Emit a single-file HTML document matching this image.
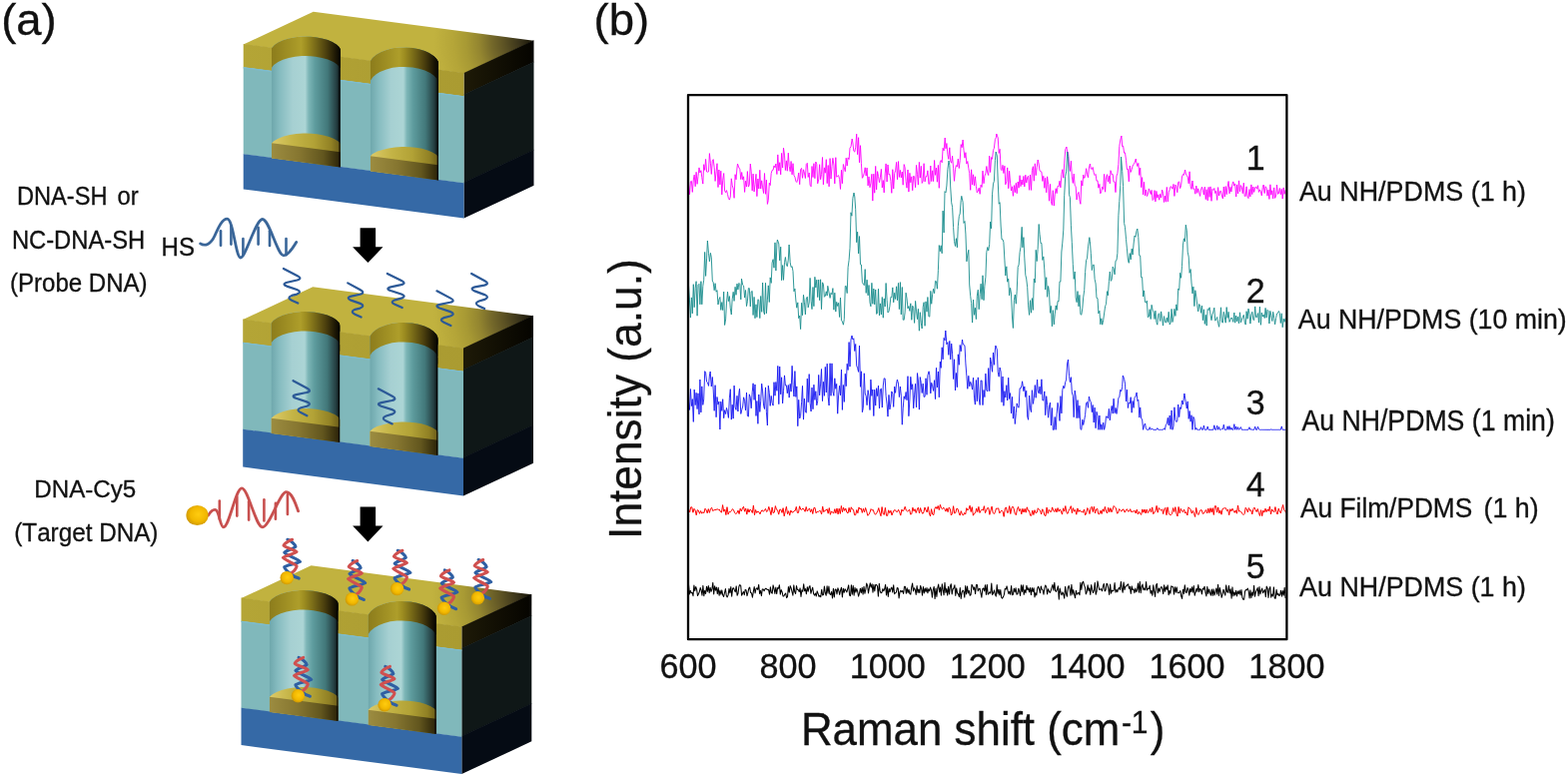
<!DOCTYPE html><html><head><meta charset="utf-8"><title>Figure</title><style>html,body{margin:0;padding:0;background:#fff;}svg{display:block;}text{font-family:"Liberation Sans", Arial, sans-serif;font-kerning:none;}</style></head><body>
<svg width="1570" height="779" viewBox="0 0 1570 779">
<defs>
<linearGradient id="gFGold" x1="0" y1="0" x2="1" y2="0"><stop offset="0" stop-color="#b4a536"/><stop offset="1" stop-color="#aa9b31"/></linearGradient>
<linearGradient id="gRGold" x1="0" y1="0" x2="1" y2="0"><stop offset="0" stop-color="#1e1a07"/><stop offset="1" stop-color="#050400"/></linearGradient>
<linearGradient id="gCyl" x1="0" y1="0" x2="1" y2="0"><stop offset="0" stop-color="#6ea7ac"/><stop offset="0.12" stop-color="#86bcc0"/><stop offset="0.3" stop-color="#a6d0d2"/><stop offset="0.48" stop-color="#acd5d5"/><stop offset="0.53" stop-color="#7db6b7"/><stop offset="0.62" stop-color="#5e9c9e"/><stop offset="0.8" stop-color="#42787a"/><stop offset="0.93" stop-color="#243d40"/><stop offset="1" stop-color="#000"/></linearGradient>
<linearGradient id="gBand" x1="0" y1="0" x2="1" y2="0"><stop offset="0" stop-color="#8c7c1c"/><stop offset="0.25" stop-color="#a09024"/><stop offset="0.42" stop-color="#ae9e2a"/><stop offset="0.5" stop-color="#9c8c20"/><stop offset="0.62" stop-color="#7a6c18"/><stop offset="0.78" stop-color="#4c400e"/><stop offset="0.9" stop-color="#221c06"/><stop offset="1" stop-color="#000"/></linearGradient>
<linearGradient id="gDiscTop" x1="0" y1="0" x2="1" y2="0"><stop offset="0" stop-color="#dcca68"/><stop offset="0.3" stop-color="#c4b446"/><stop offset="0.6" stop-color="#b2a236"/><stop offset="0.85" stop-color="#908024"/><stop offset="1" stop-color="#625416"/></linearGradient>
<linearGradient id="gDiscFront" x1="0" y1="0" x2="1" y2="0"><stop offset="0" stop-color="#9c8c40"/><stop offset="0.4" stop-color="#867630"/><stop offset="0.75" stop-color="#62561e"/><stop offset="1" stop-color="#2a2208"/></linearGradient>
<radialGradient id="gBall" cx="0.55" cy="0.45" r="0.6"><stop offset="0" stop-color="#ffcc10"/><stop offset="0.6" stop-color="#f2b800"/><stop offset="1" stop-color="#c89200"/></radialGradient>
</defs>
<rect width="1570" height="779" fill="#fff"/>
<g id="b1"><radialGradient id="gTop_b1" gradientUnits="userSpaceOnUse" cx="534.5" cy="40.8" r="100"><stop offset="0" stop-color="#141205"/><stop offset="0.14" stop-color="#38321a"/><stop offset="0.3" stop-color="#5c5224"/><stop offset="0.42" stop-color="#74682a"/><stop offset="0.55" stop-color="#948630"/><stop offset="0.68" stop-color="#a89a34"/><stop offset="0.8" stop-color="#b4a538"/><stop offset="1" stop-color="#c1b23f"/></radialGradient><polygon points="243.70,44.50 313.70,11.80 534.50,40.84 464.50,73.54" fill="url(#gTop_b1)"/><polygon points="464.50,73.04 534.50,40.34 534.50,62.34 464.50,95.04" fill="url(#gRGold)"/><polygon points="464.50,94.54 534.50,61.84 534.50,150.34 464.50,183.04" fill="#0f1717"/><polygon points="464.50,182.54 534.50,149.84 534.50,185.84 464.50,218.54" fill="#050b14"/><polygon points="243.70,44.00 464.50,73.04 464.50,96.54 243.70,67.50" fill="url(#gFGold)"/><polygon points="243.70,67.20 464.50,96.24 464.50,183.54 243.70,154.50" fill="#80b8bb"/><polygon points="243.70,154.20 464.50,183.24 464.50,218.54 243.70,189.50" fill="#3569a6"/><line x1="243.70" y1="67.90" x2="464.50" y2="96.94" stroke="#7dbccd" stroke-width="1.3"/><clipPath id="clip_b1_0"><rect x="272.00" y="0.0" width="68.80" height="240"/></clipPath><g clip-path="url(#clip_b1_0)"><path d="M272.00,48.22 A35.764,16.600 0 0 1 340.80,57.27 L340.80,167.27 L272.00,158.22 Z" fill="url(#gCyl)"/><path d="M272.00,48.22 A35.764,16.600 0 0 1 340.80,57.27 L340.80,76.77 A35.764,16.600 0 0 0 272.00,67.72 Z" fill="url(#gBand)"/><path d="M272.00,143.22 A36.218,14.500 0 0 1 340.80,152.27 L340.80,167.27 L272.00,158.22 Z" fill="url(#gDiscTop)"/><polygon points="272.00,143.22 340.80,152.27 340.80,167.57 272.00,158.52" fill="url(#gDiscFront)"/><line x1="340.10" y1="51.27" x2="340.10" y2="167.27" stroke="#000" stroke-width="1.4" opacity="0.8"/></g><clipPath id="clip_b1_1"><rect x="370.80" y="0.0" width="68.20" height="240"/></clipPath><g clip-path="url(#clip_b1_1)"><path d="M370.80,61.22 A35.135,18.700 0 0 1 439.00,70.19 L439.00,180.19 L370.80,171.22 Z" fill="url(#gCyl)"/><path d="M370.80,61.22 A35.135,18.700 0 0 1 439.00,70.19 L439.00,89.69 A35.135,18.700 0 0 0 370.80,80.72 Z" fill="url(#gBand)"/><path d="M370.80,156.22 A36.007,14.000 0 0 1 439.00,165.19 L439.00,180.19 L370.80,171.22 Z" fill="url(#gDiscTop)"/><polygon points="370.80,156.22 439.00,165.19 439.00,180.49 370.80,171.52" fill="url(#gDiscFront)"/><line x1="438.30" y1="64.19" x2="438.30" y2="180.19" stroke="#000" stroke-width="1.4" opacity="0.8"/></g></g>
<g id="b2"><radialGradient id="gTop_b2" gradientUnits="userSpaceOnUse" cx="534.0" cy="316.3" r="100"><stop offset="0" stop-color="#141205"/><stop offset="0.14" stop-color="#38321a"/><stop offset="0.3" stop-color="#5c5224"/><stop offset="0.42" stop-color="#74682a"/><stop offset="0.55" stop-color="#948630"/><stop offset="0.68" stop-color="#a89a34"/><stop offset="0.8" stop-color="#b4a538"/><stop offset="1" stop-color="#c1b23f"/></radialGradient><polygon points="243.20,320.00 313.20,287.30 534.00,316.34 464.00,349.04" fill="url(#gTop_b2)"/><polygon points="464.00,348.54 534.00,315.84 534.00,337.84 464.00,370.54" fill="url(#gRGold)"/><polygon points="464.00,370.04 534.00,337.34 534.00,425.84 464.00,458.54" fill="#0f1717"/><polygon points="464.00,458.04 534.00,425.34 534.00,463.84 464.00,496.54" fill="#050b14"/><polygon points="243.20,319.50 464.00,348.54 464.00,372.04 243.20,343.00" fill="url(#gFGold)"/><polygon points="243.20,342.70 464.00,371.74 464.00,459.04 243.20,430.00" fill="#80b8bb"/><polygon points="243.20,429.70 464.00,458.74 464.00,496.54 243.20,467.50" fill="#3569a6"/><line x1="243.20" y1="343.40" x2="464.00" y2="372.44" stroke="#7dbccd" stroke-width="1.3"/><clipPath id="clip_b2_0"><rect x="271.50" y="275.5" width="68.80" height="240"/></clipPath><g clip-path="url(#clip_b2_0)"><path d="M271.50,323.72 A35.764,16.600 0 0 1 340.30,332.77 L340.30,442.77 L271.50,433.72 Z" fill="url(#gCyl)"/><path d="M271.50,323.72 A35.764,16.600 0 0 1 340.30,332.77 L340.30,352.27 A35.764,16.600 0 0 0 271.50,343.22 Z" fill="url(#gBand)"/><path d="M271.50,418.72 A36.218,14.500 0 0 1 340.30,427.77 L340.30,442.77 L271.50,433.72 Z" fill="url(#gDiscTop)"/><polygon points="271.50,418.72 340.30,427.77 340.30,443.07 271.50,434.02" fill="url(#gDiscFront)"/><line x1="339.60" y1="326.77" x2="339.60" y2="442.77" stroke="#000" stroke-width="1.4" opacity="0.8"/></g><clipPath id="clip_b2_1"><rect x="370.30" y="275.5" width="68.20" height="240"/></clipPath><g clip-path="url(#clip_b2_1)"><path d="M370.30,336.72 A35.135,18.700 0 0 1 438.50,345.69 L438.50,455.69 L370.30,446.72 Z" fill="url(#gCyl)"/><path d="M370.30,336.72 A35.135,18.700 0 0 1 438.50,345.69 L438.50,365.19 A35.135,18.700 0 0 0 370.30,356.22 Z" fill="url(#gBand)"/><path d="M370.30,431.72 A36.007,14.000 0 0 1 438.50,440.69 L438.50,455.69 L370.30,446.72 Z" fill="url(#gDiscTop)"/><polygon points="370.30,431.72 438.50,440.69 438.50,455.99 370.30,447.02" fill="url(#gDiscFront)"/><line x1="437.80" y1="339.69" x2="437.80" y2="455.69" stroke="#000" stroke-width="1.4" opacity="0.8"/></g></g>
<g id="b3"><radialGradient id="gTop_b3" gradientUnits="userSpaceOnUse" cx="532.3" cy="595.3" r="100"><stop offset="0" stop-color="#141205"/><stop offset="0.14" stop-color="#38321a"/><stop offset="0.3" stop-color="#5c5224"/><stop offset="0.42" stop-color="#74682a"/><stop offset="0.55" stop-color="#948630"/><stop offset="0.68" stop-color="#a89a34"/><stop offset="0.8" stop-color="#b4a538"/><stop offset="1" stop-color="#c1b23f"/></radialGradient><polygon points="241.50,599.00 311.50,566.30 532.30,595.34 462.30,628.04" fill="url(#gTop_b3)"/><polygon points="462.30,627.54 532.30,594.84 532.30,616.84 462.30,649.54" fill="url(#gRGold)"/><polygon points="462.30,649.04 532.30,616.34 532.30,704.84 462.30,737.54" fill="#0f1717"/><polygon points="462.30,737.04 532.30,704.34 532.30,742.34 462.30,775.04" fill="#050b14"/><polygon points="241.50,598.50 462.30,627.54 462.30,651.04 241.50,622.00" fill="url(#gFGold)"/><polygon points="241.50,621.70 462.30,650.74 462.30,738.04 241.50,709.00" fill="#80b8bb"/><polygon points="241.50,708.70 462.30,737.74 462.30,775.04 241.50,746.00" fill="#3569a6"/><line x1="241.50" y1="622.40" x2="462.30" y2="651.44" stroke="#7dbccd" stroke-width="1.3"/><clipPath id="clip_b3_0"><rect x="269.80" y="554.5" width="68.80" height="240"/></clipPath><g clip-path="url(#clip_b3_0)"><path d="M269.80,602.72 A35.764,16.600 0 0 1 338.60,611.77 L338.60,721.77 L269.80,712.72 Z" fill="url(#gCyl)"/><path d="M269.80,602.72 A35.764,16.600 0 0 1 338.60,611.77 L338.60,631.27 A35.764,16.600 0 0 0 269.80,622.22 Z" fill="url(#gBand)"/><path d="M269.80,697.72 A36.218,14.500 0 0 1 338.60,706.77 L338.60,721.77 L269.80,712.72 Z" fill="url(#gDiscTop)"/><polygon points="269.80,697.72 338.60,706.77 338.60,722.07 269.80,713.02" fill="url(#gDiscFront)"/><line x1="337.90" y1="605.77" x2="337.90" y2="721.77" stroke="#000" stroke-width="1.4" opacity="0.8"/></g><clipPath id="clip_b3_1"><rect x="368.60" y="554.5" width="68.20" height="240"/></clipPath><g clip-path="url(#clip_b3_1)"><path d="M368.60,615.72 A35.135,18.700 0 0 1 436.80,624.69 L436.80,734.69 L368.60,725.72 Z" fill="url(#gCyl)"/><path d="M368.60,615.72 A35.135,18.700 0 0 1 436.80,624.69 L436.80,644.19 A35.135,18.700 0 0 0 368.60,635.22 Z" fill="url(#gBand)"/><path d="M368.60,710.72 A36.007,14.000 0 0 1 436.80,719.69 L436.80,734.69 L368.60,725.72 Z" fill="url(#gDiscTop)"/><polygon points="368.60,710.72 436.80,719.69 436.80,734.99 368.60,726.02" fill="url(#gDiscFront)"/><line x1="436.10" y1="618.69" x2="436.10" y2="734.69" stroke="#000" stroke-width="1.4" opacity="0.8"/></g></g>
<path d="M283.90,269.00 L297.86,276.16 Q303.20,278.90 297.41,280.49 L287.49,282.71 Q281.70,284.30 287.24,286.60 L297.26,290.00 Q302.80,292.30 297.25,294.57 L292.15,295.93 Q286.60,298.20 292.05,300.71 L298.30,303.60" fill="none" stroke="#2c5997" stroke-width="2.2" stroke-linecap="round" stroke-linejoin="round"/>
<path d="M348.20,283.40 L360.84,290.32 Q366.10,293.20 360.31,294.77 L351.69,296.63 Q345.90,298.20 351.39,300.62 L360.61,303.88 Q366.10,306.30 360.54,308.56 L355.56,309.84 Q350.00,312.10 355.44,314.63 L361.60,317.50" fill="none" stroke="#2c5997" stroke-width="2.2" stroke-linecap="round" stroke-linejoin="round"/>
<path d="M387.80,274.00 L402.01,280.96 Q407.40,283.60 401.60,285.13 L391.30,287.37 Q385.50,288.90 391.10,291.05 L401.80,294.45 Q407.40,296.60 401.77,298.68 L395.53,300.32 Q389.90,302.40 395.38,304.84 L402.70,308.10" fill="none" stroke="#2c5997" stroke-width="2.2" stroke-linecap="round" stroke-linejoin="round"/>
<path d="M437.40,291.30 L451.20,298.60 Q456.50,301.40 450.66,302.79 L440.44,304.81 Q434.60,306.20 440.16,308.47 L450.94,312.13 Q456.50,314.40 450.87,316.48 L444.63,318.12 Q439.00,320.20 444.43,322.74 L451.40,326.00" fill="none" stroke="#2c5997" stroke-width="2.2" stroke-linecap="round" stroke-linejoin="round"/>
<path d="M472.10,274.00 L485.43,281.24 Q490.70,284.10 484.88,285.56 L475.62,287.44 Q469.80,288.90 475.26,291.39 L485.24,295.11 Q490.70,297.60 485.17,299.92 L479.63,301.48 Q474.10,303.80 479.51,306.40 L485.10,309.10" fill="none" stroke="#2c5997" stroke-width="2.2" stroke-linecap="round" stroke-linejoin="round"/>
<path d="M293.50,381.20 L307.52,388.75 Q312.80,391.60 306.97,393.01 L296.63,395.09 Q290.80,396.50 296.37,398.73 L307.23,402.37 Q312.80,404.60 307.19,406.73 L301.31,408.27 Q295.70,410.40 301.06,413.10 L307.40,416.30" fill="none" stroke="#2c5997" stroke-width="2.2" stroke-linecap="round" stroke-linejoin="round"/>
<path d="M378.80,389.30 L392.90,396.79 Q398.20,399.60 392.37,401.03 L381.93,403.17 Q376.10,404.60 381.72,406.70 L392.58,410.10 Q398.20,412.20 392.72,414.64 L386.58,416.56 Q381.10,419.00 386.55,421.51 L392.80,424.40" fill="none" stroke="#2c5997" stroke-width="2.2" stroke-linecap="round" stroke-linejoin="round"/>
<path d="M287.90,540.30 C291.54,541.35 296.00,545.90 296.00,547.30 C296.00,548.50 284.70,552.10 284.70,553.30 C284.70,555.14 300.60,560.66 300.60,562.50 C300.60,563.50 284.70,566.50 284.70,567.50 C284.70,569.82 292.68,577.36 299.20,579.10" fill="none" stroke="#2f5fa3" stroke-width="3.1" stroke-linecap="round"/>
<path d="M292.50,540.30 C288.68,541.20 284.00,545.10 284.00,546.30 C284.00,547.56 297.10,551.34 297.10,552.60 C297.10,553.74 283.30,557.16 283.30,558.30 C283.30,560.00 297.10,565.10 297.10,566.80 C297.10,568.06 294.57,572.15 292.50,573.10" fill="none" stroke="#d0504f" stroke-width="3.1" stroke-linecap="round"/>
<circle cx="287.20" cy="578.60" r="6.7" fill="url(#gBall)"/>
<path d="M353.10,561.60 C356.75,562.65 361.20,567.20 361.20,568.60 C361.20,569.80 349.90,573.40 349.90,574.60 C349.90,576.44 365.80,581.96 365.80,583.80 C365.80,584.80 349.90,587.80 349.90,588.80 C349.90,591.12 357.88,598.66 364.40,600.40" fill="none" stroke="#2f5fa3" stroke-width="3.1" stroke-linecap="round"/>
<path d="M357.70,561.60 C353.88,562.50 349.20,566.40 349.20,567.60 C349.20,568.86 362.30,572.64 362.30,573.90 C362.30,575.04 348.50,578.46 348.50,579.60 C348.50,581.30 362.30,586.40 362.30,588.10 C362.30,589.36 359.77,593.45 357.70,594.40" fill="none" stroke="#d0504f" stroke-width="3.1" stroke-linecap="round"/>
<circle cx="352.40" cy="599.90" r="6.7" fill="url(#gBall)"/>
<path d="M398.30,551.30 C401.95,552.35 406.40,556.90 406.40,558.30 C406.40,559.50 395.10,563.10 395.10,564.30 C395.10,566.14 411.00,571.66 411.00,573.50 C411.00,574.50 395.10,577.50 395.10,578.50 C395.10,580.82 403.08,588.36 409.60,590.10" fill="none" stroke="#2f5fa3" stroke-width="3.1" stroke-linecap="round"/>
<path d="M402.90,551.30 C399.08,552.20 394.40,556.10 394.40,557.30 C394.40,558.56 407.50,562.34 407.50,563.60 C407.50,564.74 393.70,568.16 393.70,569.30 C393.70,571.00 407.50,576.10 407.50,577.80 C407.50,579.06 404.97,583.15 402.90,584.10" fill="none" stroke="#d0504f" stroke-width="3.1" stroke-linecap="round"/>
<circle cx="397.60" cy="589.60" r="6.7" fill="url(#gBall)"/>
<path d="M445.30,570.90 C448.95,571.95 453.40,576.50 453.40,577.90 C453.40,579.10 442.10,582.70 442.10,583.90 C442.10,585.74 458.00,591.26 458.00,593.10 C458.00,594.10 442.10,597.10 442.10,598.10 C442.10,600.42 450.08,607.96 456.60,609.70" fill="none" stroke="#2f5fa3" stroke-width="3.1" stroke-linecap="round"/>
<path d="M449.90,570.90 C446.08,571.80 441.40,575.70 441.40,576.90 C441.40,578.16 454.50,581.94 454.50,583.20 C454.50,584.34 440.70,587.76 440.70,588.90 C440.70,590.60 454.50,595.70 454.50,597.40 C454.50,598.66 451.97,602.76 449.90,603.70" fill="none" stroke="#d0504f" stroke-width="3.1" stroke-linecap="round"/>
<circle cx="444.60" cy="609.20" r="6.7" fill="url(#gBall)"/>
<path d="M479.10,560.50 C482.75,561.55 487.20,566.10 487.20,567.50 C487.20,568.70 475.90,572.30 475.90,573.50 C475.90,575.34 491.80,580.86 491.80,582.70 C491.80,583.70 475.90,586.70 475.90,587.70 C475.90,590.02 483.88,597.56 490.40,599.30" fill="none" stroke="#2f5fa3" stroke-width="3.1" stroke-linecap="round"/>
<path d="M483.70,560.50 C479.88,561.40 475.20,565.30 475.20,566.50 C475.20,567.76 488.30,571.54 488.30,572.80 C488.30,573.94 474.50,577.36 474.50,578.50 C474.50,580.20 488.30,585.30 488.30,587.00 C488.30,588.26 485.77,592.36 483.70,593.30" fill="none" stroke="#d0504f" stroke-width="3.1" stroke-linecap="round"/>
<circle cx="478.40" cy="598.80" r="6.7" fill="url(#gBall)"/>
<path d="M299.10,658.40 C302.75,659.45 307.20,664.00 307.20,665.40 C307.20,666.60 295.90,670.20 295.90,671.40 C295.90,673.24 311.80,678.76 311.80,680.60 C311.80,681.60 295.90,684.60 295.90,685.60 C295.90,687.92 303.88,695.46 310.40,697.20" fill="none" stroke="#2f5fa3" stroke-width="3.1" stroke-linecap="round"/>
<path d="M303.70,658.40 C299.88,659.30 295.20,663.20 295.20,664.40 C295.20,665.66 308.30,669.44 308.30,670.70 C308.30,671.84 294.50,675.26 294.50,676.40 C294.50,678.10 308.30,683.20 308.30,684.90 C308.30,686.16 305.77,690.26 303.70,691.20" fill="none" stroke="#d0504f" stroke-width="3.1" stroke-linecap="round"/>
<circle cx="298.40" cy="696.70" r="6.7" fill="url(#gBall)"/>
<path d="M385.80,667.40 C389.45,668.45 393.90,673.00 393.90,674.40 C393.90,675.60 382.60,679.20 382.60,680.40 C382.60,682.24 398.50,687.76 398.50,689.60 C398.50,690.60 382.60,693.60 382.60,694.60 C382.60,696.92 390.58,704.46 397.10,706.20" fill="none" stroke="#2f5fa3" stroke-width="3.1" stroke-linecap="round"/>
<path d="M390.40,667.40 C386.58,668.30 381.90,672.20 381.90,673.40 C381.90,674.66 395.00,678.44 395.00,679.70 C395.00,680.84 381.20,684.26 381.20,685.40 C381.20,687.10 395.00,692.20 395.00,693.90 C395.00,695.16 392.47,699.26 390.40,700.20" fill="none" stroke="#d0504f" stroke-width="3.1" stroke-linecap="round"/>
<circle cx="385.10" cy="705.70" r="6.7" fill="url(#gBall)"/>
<path d="M200.6,243.9 C205,246.8 211,245 215,236 C219,227 222.5,219.2 227.5,219.2 C233.5,219.2 236,258 240.9,258 C246,258 256,219.5 262.8,219.5 C269.5,219.5 278,255.9 284,255.9 C289,255.9 293.5,247.5 296.7,242.5" fill="none" stroke="#3a6699" stroke-width="2.8" stroke-linecap="round"/>
<line x1="221" y1="231.2" x2="221" y2="245.7" stroke="#3a6699" stroke-width="2.6" stroke-linecap="round"/>
<line x1="231.4" y1="226.2" x2="231.4" y2="244.6" stroke="#3a6699" stroke-width="2.6" stroke-linecap="round"/>
<line x1="243.4" y1="239" x2="243.4" y2="255.2" stroke="#3a6699" stroke-width="2.6" stroke-linecap="round"/>
<line x1="258.6" y1="227.7" x2="258.6" y2="244.6" stroke="#3a6699" stroke-width="2.6" stroke-linecap="round"/>
<line x1="270" y1="231.2" x2="270" y2="246" stroke="#3a6699" stroke-width="2.6" stroke-linecap="round"/>
<line x1="286.5" y1="239" x2="286.5" y2="255.2" stroke="#3a6699" stroke-width="2.6" stroke-linecap="round"/>
<path d="M208.5,516 C211,512 213.5,509.5 216,510.5 C219.5,512 220.5,527.8 223.8,527.8 C229.5,527.8 236,488.8 242.1,488.8 C248.5,488.8 256,527.8 262.8,527.8 C270,527.8 280,492.7 286.7,492.7 C292,492.7 295.5,503 298.6,511.8" fill="none" stroke="#c8504f" stroke-width="2.8" stroke-linecap="round"/>
<line x1="219.8" y1="501.5" x2="219.8" y2="519.8" stroke="#c8504f" stroke-width="2.6" stroke-linecap="round"/>
<line x1="237.3" y1="497.5" x2="237.3" y2="516.6" stroke="#c8504f" stroke-width="2.6" stroke-linecap="round"/>
<line x1="249.1" y1="502.3" x2="249.1" y2="520.6" stroke="#c8504f" stroke-width="2.6" stroke-linecap="round"/>
<line x1="264.4" y1="500.3" x2="264.4" y2="521.4" stroke="#c8504f" stroke-width="2.6" stroke-linecap="round"/>
<line x1="275.9" y1="503.9" x2="275.9" y2="519.8" stroke="#c8504f" stroke-width="2.6" stroke-linecap="round"/>
<line x1="287.9" y1="495.1" x2="287.9" y2="515" stroke="#c8504f" stroke-width="2.6" stroke-linecap="round"/>
<ellipse cx="197.5" cy="516" rx="11.1" ry="10.1" fill="url(#gBall)"/>
<polygon points="360.60,228.30 376.10,228.30 376.10,247.30 383.50,247.30 368.40,263.10 353.10,247.30 360.60,247.30" fill="#000"/>
<polygon points="360.60,507.60 376.10,507.60 376.10,526.60 383.50,526.60 368.40,542.40 353.10,526.60 360.60,526.60" fill="#000"/>
<text transform="translate(1.17,35.40) scale(1,0.975)" font-size="45.50" fill="#111" stroke="#111" stroke-width="0.3">(a)</text>
<text transform="translate(594.57,35.40) scale(1,0.975)" font-size="45.50" fill="#111" stroke="#111" stroke-width="0.3">(b)</text>
<text transform="translate(17.01,205.00) scale(1,1.075)" font-size="23.60" fill="#111" stroke="#111" stroke-width="0.3">DNA-SH</text>
<text transform="translate(117.55,205.00) scale(1,1.060)" font-size="23.80" fill="#111" stroke="#111" stroke-width="0.3">or</text>
<text transform="translate(11.90,249.40) scale(1,1.080)" font-size="23.76" fill="#111" stroke="#111" stroke-width="0.3">NC-DNA-SH</text>
<text transform="translate(10.06,292.40) scale(1,1.036)" font-size="24.05" fill="#111" stroke="#111" stroke-width="0.3">(Probe DNA)</text>
<text transform="translate(161.58,256.30) scale(1,1.052)" font-size="23.97" fill="#111" stroke="#111" stroke-width="0.3">HS</text>
<text transform="translate(34.37,497.50) scale(1,1.010)" font-size="24.10" fill="#111" stroke="#111" stroke-width="0.3">DNA-Cy5</text>
<text transform="translate(14.24,542.00) scale(1,1.033)" font-size="24.26" fill="#111" stroke="#111" stroke-width="0.3">(Target DNA)</text>
<polyline points="689.5,185.1 690.5,194.6 691.4,181.8 692.4,181.3 693.3,192.4 694.3,180.0 695.2,175.1 696.2,186.7 697.1,172.3 698.1,184.3 699.0,176.4 700.0,167.9 700.9,173.0 701.9,170.7 702.8,177.7 703.8,184.1 704.7,164.7 705.7,170.4 706.6,159.4 707.6,172.0 708.5,172.2 709.5,171.9 710.4,153.6 711.4,163.2 712.3,174.4 713.3,161.1 714.2,159.6 715.2,167.8 716.1,181.4 717.1,171.8 718.0,163.7 719.0,187.5 719.9,170.0 720.9,184.9 721.8,171.2 722.8,194.9 723.7,180.2 724.7,173.5 725.6,191.0 726.6,192.7 727.5,190.6 728.5,194.5 729.4,198.5 730.4,200.1 731.3,197.0 732.3,178.8 733.2,185.5 734.2,188.9 735.1,198.3 736.1,174.7 737.0,179.8 738.0,168.0 738.5,164.0 739.9,168.0 740.8,169.1 741.8,179.6 742.7,172.5 743.7,179.8 744.6,176.8 745.6,192.4 746.5,181.2 747.5,187.0 748.4,171.6 749.4,187.1 750.3,184.9 751.3,164.1 752.2,171.8 753.2,190.9 754.1,174.1 755.1,192.0 756.0,184.7 757.0,174.3 757.9,196.6 758.9,179.0 759.8,189.0 760.8,170.3 761.7,189.0 762.7,180.8 763.6,187.9 764.6,193.5 765.5,173.5 766.5,194.3 767.4,180.2 768.4,204.4 769.3,200.4 770.3,183.2 771.2,185.6 772.2,173.6 773.1,170.5 774.1,170.2 775.0,165.9 776.0,167.8 776.9,164.0 777.9,174.5 778.8,154.9 779.8,171.1 780.7,162.7 781.7,174.8 782.6,153.4 783.6,168.0 784.5,148.1 785.5,155.1 786.4,170.5 787.4,160.9 788.3,171.2 789.3,153.2 790.2,166.4 791.2,171.7 792.1,161.5 793.1,174.8 794.0,163.7 795.0,175.8 795.9,177.1 796.9,181.5 797.8,182.5 798.8,179.2 799.7,173.0 800.7,184.7 801.6,169.6 802.6,168.4 803.5,178.3 804.5,169.8 805.4,173.1 806.4,178.5 807.3,164.4 808.3,163.3 809.2,177.4 810.2,173.0 811.1,185.2 812.1,186.8 813.0,166.5 814.0,177.5 814.9,163.7 815.9,178.7 816.8,162.0 817.8,164.6 818.7,183.8 819.7,179.9 820.6,164.7 821.6,179.7 822.5,174.5 823.5,157.5 824.4,184.8 825.4,167.9 826.3,173.2 827.3,159.7 828.2,183.6 829.2,165.5 830.1,186.8 831.1,158.6 832.0,179.1 833.0,166.5 833.9,158.3 834.9,165.1 835.8,183.9 836.8,157.7 837.7,177.2 838.7,176.4 839.6,175.6 840.6,179.4 841.5,189.4 842.5,170.3 843.4,183.7 844.4,164.5 845.3,167.9 846.3,171.7 847.2,158.2 848.2,166.1 849.1,157.9 850.1,159.5 851.0,148.2 852.0,146.7 853.2,139.0 853.9,143.0 854.8,151.2 855.8,152.1 856.7,147.5 857.7,134.2 858.6,154.7 859.6,137.7 860.5,162.8 861.5,145.7 862.4,163.7 863.4,178.3 864.3,176.8 865.3,173.2 866.2,167.8 867.2,176.1 868.1,168.1 869.1,185.9 870.0,176.9 871.0,187.7 871.9,183.3 872.9,174.3 873.8,201.1 874.8,174.2 875.7,193.2 876.7,166.4 877.6,189.9 878.6,171.6 879.5,176.5 880.5,182.7 881.4,177.7 882.4,169.4 883.3,187.9 884.3,180.6 885.2,192.9 886.2,173.9 887.1,163.9 888.1,182.0 889.0,165.0 890.0,175.1 890.9,174.4 891.9,181.4 892.8,193.3 893.8,169.7 894.7,189.1 895.7,173.5 896.6,170.8 897.6,162.4 898.5,179.7 899.5,161.6 900.4,177.4 901.4,170.4 902.3,177.9 903.3,172.0 904.2,185.2 905.2,164.6 906.1,167.7 907.1,181.4 908.0,188.2 909.0,170.0 909.9,192.1 910.9,173.3 911.8,182.8 912.8,176.8 913.7,190.7 914.7,176.1 915.6,177.1 916.6,187.7 917.5,165.4 918.5,174.3 919.4,185.1 920.4,162.4 921.3,178.1 922.3,166.3 923.2,183.4 924.2,181.2 925.1,163.7 926.1,181.9 927.0,176.7 928.0,176.7 928.9,170.8 929.9,184.3 930.8,184.0 931.8,166.0 932.7,181.6 933.7,170.8 934.6,181.6 935.6,160.5 936.5,175.3 937.5,168.0 938.4,182.2 939.4,165.4 940.3,188.3 941.3,162.3 942.2,160.5 943.2,162.8 944.1,148.3 945.1,150.9 946.2,138.0 947.0,148.8 947.9,143.5 948.9,154.7 949.8,159.4 950.8,147.8 951.7,161.3 952.7,163.2 953.6,156.2 954.6,168.8 955.5,181.3 956.5,169.4 957.4,165.6 958.4,166.9 959.3,159.1 960.3,168.5 961.2,160.4 962.2,144.6 963.1,147.7 964.1,140.0 965.0,150.3 966.0,158.2 966.9,152.7 967.9,164.1 968.8,161.5 969.8,168.3 970.7,173.2 971.7,190.3 972.6,169.8 973.6,185.0 974.5,174.8 975.5,185.9 976.4,176.8 977.4,186.5 978.3,192.9 979.3,191.1 980.2,188.2 981.2,194.3 982.1,185.2 983.1,187.4 984.0,171.1 985.0,183.7 985.9,176.3 986.9,173.3 987.8,166.5 988.8,173.2 989.7,175.5 990.7,156.2 991.6,172.5 992.6,157.6 993.5,159.3 994.5,150.4 995.4,148.3 996.4,139.5 997.3,137.8 997.8,134.0 999.2,138.0 1000.2,153.4 1001.1,149.3 1002.1,169.3 1003.0,170.7 1004.0,165.3 1004.9,173.5 1005.9,166.2 1006.8,184.8 1007.8,181.4 1008.7,167.9 1009.7,188.7 1010.6,171.2 1011.6,183.1 1012.5,191.0 1013.5,186.8 1014.4,196.3 1015.4,185.6 1016.3,192.7 1017.3,183.3 1018.2,193.7 1019.2,182.0 1020.1,188.2 1021.1,175.7 1022.0,186.6 1023.0,180.0 1023.9,185.0 1024.9,176.4 1025.8,186.9 1026.8,175.2 1027.7,183.1 1028.7,177.6 1029.6,176.2 1030.6,190.3 1031.5,175.0 1032.5,190.4 1033.4,170.5 1034.4,166.7 1035.3,181.2 1036.3,163.8 1037.2,175.6 1038.2,167.6 1039.2,160.0 1040.1,164.0 1041.0,170.9 1042.0,171.6 1042.9,172.1 1043.9,181.4 1044.8,176.3 1045.8,188.3 1046.7,178.2 1047.7,192.8 1048.6,176.8 1049.6,184.8 1050.5,201.2 1051.5,184.4 1052.4,201.5 1053.4,205.4 1054.3,190.7 1055.3,206.1 1056.2,194.9 1057.2,188.7 1058.1,193.6 1059.1,186.3 1060.0,186.7 1061.0,181.2 1061.9,187.8 1062.9,174.5 1063.8,169.7 1064.8,178.2 1065.7,163.1 1066.7,149.7 1067.9,147.0 1068.6,152.2 1069.5,152.5 1070.5,164.9 1071.4,171.4 1072.4,161.2 1073.3,176.9 1074.3,183.4 1075.2,174.1 1076.2,185.8 1077.1,186.5 1078.1,200.0 1079.0,194.1 1080.0,192.4 1080.9,199.8 1081.9,204.3 1082.8,180.8 1083.8,186.1 1084.7,175.0 1085.7,178.4 1086.6,176.5 1087.6,168.7 1088.5,174.5 1089.5,177.7 1090.4,168.0 1091.4,164.0 1092.3,169.0 1093.3,169.5 1094.2,167.5 1095.2,172.8 1096.1,175.5 1097.1,174.5 1098.0,181.1 1099.0,180.9 1099.9,188.2 1100.9,184.4 1101.8,193.8 1102.8,191.5 1103.7,187.0 1104.7,189.5 1105.6,174.4 1106.6,192.2 1107.5,177.8 1108.5,174.7 1109.4,182.1 1110.4,176.2 1111.3,183.8 1112.0,170.7 1113.2,174.7 1114.2,174.5 1115.1,182.0 1116.1,182.0 1117.0,192.6 1118.0,176.1 1118.9,173.6 1119.9,164.6 1120.8,146.5 1121.8,140.0 1122.9,136.0 1123.7,146.7 1124.6,146.1 1125.6,153.2 1126.5,152.9 1127.5,160.3 1128.4,169.6 1129.4,169.3 1130.3,181.8 1131.3,166.0 1132.2,172.4 1133.2,169.5 1134.1,166.0 1135.1,164.5 1136.0,163.0 1137.3,159.0 1137.9,163.0 1138.9,166.5 1139.8,163.4 1140.8,175.4 1141.7,168.2 1142.7,187.6 1143.6,177.6 1144.6,194.9 1145.5,182.3 1146.5,196.0 1147.4,190.0 1148.4,196.5 1149.3,194.7 1150.3,188.9 1151.2,191.0 1152.2,194.5 1153.1,190.4 1154.1,200.5 1155.0,199.6 1156.0,190.6 1156.9,201.9 1157.9,191.4 1158.8,198.2 1159.8,194.8 1160.7,200.2 1161.7,194.3 1162.6,198.0 1163.6,190.1 1164.5,193.3 1165.5,202.5 1166.4,196.2 1167.4,202.2 1168.3,187.4 1169.3,201.9 1170.2,192.7 1171.2,189.8 1172.1,186.7 1173.1,187.2 1174.0,189.2 1175.0,184.4 1175.9,196.4 1176.9,185.1 1177.8,186.4 1178.8,192.7 1179.7,182.5 1180.7,181.9 1181.6,188.6 1182.6,185.7 1183.5,177.0 1184.5,174.6 1185.4,175.3 1186.6,170.0 1187.3,174.0 1188.3,175.8 1189.2,177.0 1190.2,183.8 1191.1,171.8 1192.1,186.2 1193.0,189.4 1194.0,181.0 1194.9,189.3 1195.9,188.9 1196.8,194.2 1197.8,186.1 1198.7,193.3 1199.7,188.8 1200.6,192.7 1201.6,196.4 1202.5,190.0 1203.5,187.2 1204.4,190.2 1205.4,195.1 1206.3,187.2 1207.3,199.6 1208.2,189.7 1209.2,200.8 1210.1,187.4 1211.1,197.4 1212.0,186.9 1213.0,201.3 1213.9,189.4 1214.9,190.4 1215.8,188.5 1216.8,193.5 1217.7,191.4 1218.7,200.4 1219.6,187.6 1220.6,196.0 1221.5,191.7 1222.5,191.2 1223.4,196.1 1224.4,198.9 1225.3,187.0 1226.3,197.0 1227.2,186.6 1228.2,194.7 1229.1,187.2 1230.1,181.5 1231.0,193.8 1232.0,187.3 1232.9,192.0 1233.9,184.7 1234.8,181.9 1235.8,186.1 1236.7,183.9 1237.7,197.0 1238.6,184.9 1239.6,193.9 1240.5,180.9 1241.5,191.8 1242.4,185.6 1243.4,187.6 1244.3,193.7 1245.3,183.2 1246.2,196.3 1247.2,196.4 1248.1,186.8 1249.1,197.2 1250.0,198.6 1251.0,189.5 1251.9,196.9 1252.9,184.9 1253.8,194.6 1254.8,187.0 1255.7,192.4 1256.7,187.9 1257.6,186.9 1258.6,189.2 1259.5,185.7 1260.5,192.4 1261.4,189.9 1262.4,191.8 1263.3,195.9 1264.3,187.5 1265.2,185.0 1266.2,193.5 1267.1,186.7 1268.1,188.2 1269.0,196.2 1270.0,190.1 1270.9,199.4 1271.9,184.8 1272.8,195.2 1273.8,190.7 1274.7,198.9 1275.7,187.9 1276.6,198.4 1277.6,196.3 1278.5,185.0 1279.5,194.3 1280.4,193.7 1281.4,188.4 1282.3,194.7 1283.3,189.3 1284.2,199.1 1285.2,187.9 1286.1,194.4 1287.1,190.2" fill="none" stroke="#ff00ff" stroke-width="0.9" stroke-linejoin="round"/>
<polyline points="689.5,285.9 690.5,300.9 691.4,318.1 692.4,297.9 693.3,313.9 694.3,284.7 695.2,307.7 696.2,288.2 697.1,281.7 698.1,316.2 699.0,285.3 700.0,284.3 700.9,304.8 701.9,281.7 702.8,304.8 703.8,286.6 704.7,280.5 705.7,252.4 706.6,276.4 707.6,258.9 708.4,241.0 709.5,253.4 710.4,261.8 711.4,253.3 712.3,257.8 713.3,281.1 714.2,282.8 715.2,290.7 716.1,283.7 717.1,292.2 718.0,290.7 719.0,305.0 719.9,300.0 720.9,297.5 721.8,310.4 722.8,302.6 723.7,310.6 724.7,292.1 725.6,325.5 726.6,319.9 727.5,303.1 728.5,292.2 729.4,301.7 730.4,296.6 731.3,308.8 732.3,315.0 733.2,299.5 734.2,292.3 735.1,301.4 736.1,287.3 737.0,295.3 738.0,284.1 738.9,290.1 739.9,283.4 740.8,284.6 741.8,299.9 742.5,279.1 743.7,285.3 744.6,286.1 745.6,298.1 746.5,290.5 747.5,306.6 748.4,301.8 749.4,288.6 750.3,288.6 751.3,306.9 752.2,292.0 753.2,291.4 754.1,315.5 755.1,297.4 756.0,318.7 757.0,304.8 757.9,317.6 758.9,299.8 759.8,300.4 760.8,318.6 761.7,296.5 762.7,312.3 763.6,283.0 764.6,311.8 765.5,314.9 766.5,283.3 767.4,313.8 768.4,300.2 769.3,285.9 770.3,302.5 771.2,277.9 772.2,283.4 773.1,263.1 774.1,259.7 775.0,268.2 776.0,242.9 776.9,271.0 777.9,244.0 778.4,240.0 779.8,244.0 780.7,260.9 781.7,247.2 782.6,280.7 783.6,265.6 784.5,280.4 785.5,262.6 786.4,257.5 787.4,265.3 788.3,266.7 789.3,260.1 790.1,245.0 791.2,262.8 792.1,267.5 793.1,266.7 794.0,271.7 795.0,291.8 795.9,289.0 796.9,301.0 797.8,308.2 798.8,302.9 799.7,318.7 800.7,316.1 801.6,329.6 802.6,303.3 803.5,315.7 804.5,295.3 805.4,302.3 806.4,314.9 807.3,298.9 808.3,297.2 809.2,307.9 810.2,303.0 811.1,278.4 812.1,301.3 813.0,309.6 814.0,287.5 814.9,306.7 815.9,277.3 816.8,288.0 817.8,280.2 818.7,297.6 819.7,280.1 820.6,300.7 821.6,279.8 822.5,309.6 823.5,282.8 824.4,284.3 825.4,297.3 826.3,296.4 827.3,291.8 828.2,296.1 828.8,286.3 830.1,293.1 831.1,298.4 832.0,293.3 833.0,294.8 833.9,288.6 834.9,310.2 835.8,293.2 836.8,312.1 837.7,302.3 838.7,306.5 839.6,303.3 840.6,317.5 841.5,298.1 842.5,320.9 843.4,321.9 844.4,325.2 845.3,319.6 846.3,286.5 847.2,286.4 848.2,293.6 849.1,267.7 850.1,260.4 851.0,248.4 852.0,212.8 852.9,216.2 853.9,198.3 855.0,193.0 855.8,197.0 856.7,209.7 857.7,242.7 858.6,232.2 859.6,253.9 860.5,236.6 861.5,264.8 862.4,265.0 863.4,282.6 864.3,284.4 865.3,285.7 866.2,269.6 867.2,293.4 868.1,280.2 869.1,295.8 870.0,285.5 871.0,302.8 871.9,306.8 872.9,283.3 873.8,304.3 874.8,289.0 875.7,304.9 876.7,290.0 877.6,314.4 878.6,313.6 879.5,289.3 880.5,316.0 881.4,303.9 882.4,315.0 883.3,297.5 884.3,318.2 885.2,298.9 886.2,307.0 887.1,283.5 888.1,300.5 889.0,313.0 890.0,311.6 890.9,306.8 891.9,297.4 892.8,297.8 893.8,287.9 894.7,302.8 895.7,293.2 896.6,299.5 897.6,286.8 898.5,300.8 899.5,283.4 900.4,309.6 901.4,282.6 902.3,314.9 903.3,287.5 904.2,320.2 905.2,320.3 906.1,312.9 907.1,293.2 908.0,298.8 909.0,308.9 909.9,306.5 910.9,311.4 911.8,303.8 912.8,320.3 913.7,306.2 914.7,308.3 915.6,323.4 916.6,301.4 917.5,311.1 918.5,319.6 919.4,309.3 920.4,331.2 921.3,312.7 922.3,323.3 923.2,329.0 924.2,307.3 925.1,302.7 926.1,326.3 927.0,301.9 928.0,312.2 928.9,297.5 929.9,316.8 930.8,317.1 931.8,291.4 932.7,304.3 933.7,294.3 934.6,289.3 935.6,293.7 936.5,281.3 937.5,281.8 938.4,289.2 939.4,270.6 940.3,245.6 941.3,251.7 942.2,245.8 943.2,253.7 944.1,211.1 945.1,233.0 946.0,191.7 947.0,192.8 947.9,186.0 948.9,169.3 950.0,161.0 950.8,165.3 951.7,187.0 952.7,202.8 953.6,207.3 954.6,227.6 955.5,241.5 956.5,246.5 957.4,238.7 958.4,247.8 959.3,226.3 960.3,216.6 961.2,214.0 962.2,200.3 962.8,196.3 964.1,202.4 965.0,223.4 966.0,221.5 966.9,234.1 967.9,261.8 968.8,255.1 969.8,250.3 970.7,285.0 971.7,296.3 972.6,303.5 973.6,323.1 974.5,300.1 975.5,315.3 976.4,308.3 977.4,319.6 978.3,296.2 979.3,290.2 980.2,309.7 981.2,294.6 982.1,284.2 983.1,299.7 984.0,275.8 985.0,300.7 985.9,286.3 986.9,277.5 987.8,252.5 988.8,247.5 989.7,250.9 990.7,244.6 991.6,222.1 992.6,228.8 993.5,194.8 994.5,184.1 995.4,181.3 996.4,160.3 997.2,152.0 998.3,156.0 999.2,181.0 1000.2,204.2 1001.1,202.7 1002.1,226.0 1003.0,239.7 1004.0,239.7 1004.9,242.6 1005.9,260.1 1006.8,276.0 1007.8,266.8 1008.7,282.2 1009.7,279.1 1010.6,295.9 1011.6,288.3 1012.5,294.1 1013.5,318.0 1014.4,328.5 1015.4,300.5 1016.3,295.0 1017.3,304.2 1018.2,291.2 1019.2,267.4 1020.1,265.1 1021.1,252.6 1022.0,247.3 1023.2,227.3 1023.9,247.8 1024.9,237.6 1025.8,258.1 1026.8,275.3 1027.7,279.0 1028.7,287.7 1029.6,305.9 1030.6,315.4 1031.5,300.7 1032.5,313.2 1033.4,298.6 1034.4,310.4 1035.3,279.2 1036.3,283.1 1037.2,250.3 1038.2,261.6 1039.1,249.6 1040.2,224.5 1041.0,234.3 1042.0,243.5 1042.9,243.4 1043.9,260.4 1044.8,256.9 1045.8,270.1 1046.7,290.0 1047.7,277.7 1048.6,297.3 1049.6,286.5 1050.5,292.2 1051.5,313.3 1052.4,306.4 1053.4,326.8 1054.3,310.6 1055.3,324.9 1056.2,314.9 1057.2,305.9 1058.1,310.3 1059.1,301.5 1060.0,301.9 1061.0,281.9 1061.9,282.0 1062.9,252.0 1063.8,243.1 1064.8,230.1 1065.7,195.8 1066.7,176.5 1067.6,171.9 1068.7,152.0 1069.5,156.5 1070.5,194.8 1071.4,197.8 1072.4,225.8 1073.3,242.7 1074.3,264.7 1075.2,279.4 1076.2,272.0 1077.1,297.9 1078.1,302.7 1079.0,291.6 1080.0,306.8 1080.9,295.4 1081.9,314.7 1082.8,315.2 1083.8,308.9 1084.7,297.9 1085.7,290.5 1086.6,272.5 1087.6,260.4 1088.5,258.8 1089.5,246.9 1090.8,237.7 1091.4,241.7 1092.3,253.7 1093.3,270.6 1094.2,265.5 1095.2,265.0 1096.1,279.4 1097.1,284.0 1098.0,298.3 1099.0,298.8 1099.9,313.9 1100.9,311.2 1101.8,324.8 1102.8,318.8 1103.7,325.2 1104.7,320.7 1105.6,314.0 1106.6,306.7 1107.5,304.4 1108.5,291.7 1109.4,295.8 1110.4,281.5 1111.3,272.0 1112.3,281.4 1113.2,279.8 1114.2,267.1 1115.1,269.1 1116.1,274.8 1117.0,261.2 1118.0,260.6 1118.9,253.5 1119.9,215.8 1120.8,201.5 1121.8,185.7 1122.5,157.0 1123.7,171.4 1124.6,186.6 1125.6,223.4 1126.5,227.7 1127.5,239.4 1128.4,248.9 1129.4,260.2 1130.3,263.3 1131.3,253.6 1132.2,259.9 1133.2,249.1 1134.1,255.1 1135.1,244.0 1136.0,236.0 1137.0,237.3 1137.9,231.5 1138.8,229.0 1139.8,237.5 1140.8,255.9 1141.7,256.0 1142.7,277.8 1143.6,277.6 1144.6,297.0 1145.5,290.9 1146.5,302.5 1147.4,303.2 1148.4,301.1 1149.3,317.7 1150.3,317.1 1151.2,309.7 1152.2,319.5 1153.1,305.3 1154.1,310.4 1155.0,311.9 1156.0,319.5 1156.9,311.2 1157.9,322.4 1158.8,325.2 1159.8,314.7 1160.7,313.7 1161.7,321.5 1162.6,311.9 1163.6,318.9 1164.5,326.1 1165.5,316.6 1166.4,321.7 1167.4,323.2 1168.3,318.2 1169.3,322.6 1170.2,312.3 1171.2,325.0 1172.1,323.0 1173.1,309.4 1174.0,322.5 1175.0,317.1 1175.9,309.3 1176.9,316.4 1177.8,304.9 1178.8,310.8 1179.7,289.1 1180.7,290.4 1181.6,273.3 1182.6,278.3 1183.5,266.4 1184.5,245.1 1185.4,238.8 1186.4,241.9 1187.3,225.2 1188.3,230.8 1189.2,252.2 1190.2,257.1 1191.1,273.3 1192.1,269.6 1193.0,283.0 1194.0,293.9 1194.9,287.1 1195.9,306.6 1196.8,290.7 1197.8,297.0 1198.7,305.1 1199.7,311.9 1200.6,304.5 1201.6,306.1 1202.5,313.3 1203.5,306.1 1204.4,320.7 1205.4,309.8 1206.3,324.4 1207.3,315.3 1208.2,326.1 1209.2,309.5 1210.1,310.6 1211.1,307.8 1212.0,315.2 1213.0,320.7 1213.9,314.9 1214.9,312.1 1215.8,308.2 1216.8,321.2 1217.7,319.7 1218.7,317.5 1219.6,323.2 1220.6,327.3 1221.5,319.7 1222.5,307.8 1223.4,322.4 1224.4,323.1 1225.3,312.3 1226.3,317.2 1227.2,323.2 1228.2,307.6 1229.1,318.4 1230.1,312.3 1231.0,322.4 1232.0,320.1 1232.9,318.0 1233.9,319.0 1234.8,322.4 1235.8,313.0 1236.7,323.2 1237.7,316.0 1238.6,321.8 1239.6,317.2 1240.5,323.8 1241.5,312.8 1242.4,322.9 1243.4,320.2 1244.3,317.6 1245.3,315.4 1246.2,322.1 1247.2,325.1 1248.1,311.7 1249.1,319.3 1250.0,309.1 1251.0,314.4 1251.9,324.1 1252.9,315.1 1253.8,312.3 1254.8,319.9 1255.7,320.6 1256.7,306.9 1257.6,317.6 1258.6,317.5 1259.5,313.6 1260.5,323.1 1261.4,307.1 1262.4,325.3 1263.3,313.1 1264.3,317.0 1265.2,315.1 1266.2,318.5 1267.1,308.4 1268.1,318.2 1269.0,310.3 1270.0,311.3 1270.9,324.0 1271.9,311.4 1272.8,315.8 1273.8,321.5 1274.7,312.3 1275.7,318.3 1276.6,324.8 1277.6,318.6 1278.5,314.0 1279.5,313.5 1280.4,311.5 1281.4,313.6 1282.3,323.5 1283.3,313.8 1284.2,327.7 1285.2,319.2 1286.1,322.4 1287.1,318.6" fill="none" stroke="#188c8c" stroke-width="0.9" stroke-linejoin="round"/>
<polyline points="689.5,402.2 690.5,410.4 691.4,389.5 692.4,406.6 693.3,399.6 694.3,422.4 695.2,390.1 696.2,405.6 697.1,393.3 698.1,409.6 699.0,393.8 700.0,414.9 700.9,380.0 701.9,412.9 702.8,386.9 703.8,405.4 704.7,399.9 705.7,371.7 706.6,373.2 707.6,382.3 708.5,383.0 709.5,386.4 710.4,376.0 711.2,372.0 712.3,387.0 713.3,377.5 714.2,389.9 715.2,411.3 716.1,385.7 717.1,417.7 718.0,397.5 719.0,405.1 719.9,402.1 720.9,430.0 721.8,402.1 722.8,411.4 723.7,399.7 724.7,418.7 725.6,410.7 726.6,414.5 727.5,408.4 728.5,412.3 729.4,418.4 730.4,398.2 731.3,389.7 732.3,420.1 733.2,405.2 734.2,419.1 735.1,386.1 736.1,407.8 737.0,410.4 738.0,396.3 738.9,412.0 739.9,393.3 740.5,389.3 741.8,414.4 742.7,410.5 743.7,407.0 744.6,397.8 745.6,401.3 746.5,410.8 747.5,393.0 748.4,416.4 749.4,417.1 750.3,394.8 751.3,398.1 752.2,408.8 753.2,392.7 754.1,383.8 755.1,400.4 756.0,385.0 757.0,416.4 757.9,401.5 758.9,424.3 759.8,395.0 760.8,412.4 761.7,401.7 762.7,384.2 763.6,391.9 764.6,406.4 765.5,409.5 766.5,387.9 767.4,412.4 768.4,426.0 769.3,386.2 770.3,393.5 771.2,406.4 772.2,396.4 773.1,403.3 774.1,406.1 775.0,382.7 776.0,396.2 776.9,382.5 777.9,391.3 778.8,366.4 779.8,404.7 780.7,367.0 781.7,394.8 782.6,377.8 783.6,403.9 784.5,391.6 785.5,375.9 786.4,386.0 787.4,385.8 788.3,393.8 789.3,385.5 790.2,398.1 791.2,384.4 792.1,392.1 793.1,366.3 794.0,385.5 795.0,397.0 795.9,371.6 796.9,397.4 797.8,386.9 798.8,426.7 799.7,400.3 800.7,419.0 801.6,416.4 802.6,402.6 803.5,386.4 804.5,420.1 805.4,399.1 806.4,412.0 807.3,413.3 808.3,379.2 809.2,402.7 810.2,374.6 811.1,403.3 812.1,412.0 813.0,388.1 814.0,409.7 814.9,385.2 815.9,400.4 816.8,391.7 817.8,405.8 818.7,401.6 819.7,375.4 820.6,395.9 821.6,384.1 822.5,369.5 823.5,401.6 824.4,382.3 825.4,396.3 826.3,367.4 827.3,393.0 828.2,364.2 829.2,397.6 830.1,406.0 831.1,363.8 832.0,396.3 833.0,363.9 833.9,391.7 834.9,396.3 835.8,378.8 836.8,389.3 837.7,384.4 838.7,414.2 839.6,395.9 840.6,386.3 841.5,395.9 842.5,370.1 843.4,410.4 844.4,385.5 845.3,402.4 846.3,374.3 847.2,386.7 848.2,364.3 849.1,370.5 850.1,342.6 851.0,367.1 852.0,340.0 853.0,336.0 853.9,340.0 854.8,338.8 855.8,351.5 856.7,344.5 857.7,366.2 858.6,368.4 859.6,372.4 860.5,346.1 861.5,387.3 862.4,371.8 863.4,412.7 864.3,408.5 865.3,373.8 866.2,394.0 867.2,396.6 868.1,405.7 869.1,390.7 870.0,396.6 871.0,410.5 871.9,380.1 872.9,396.4 873.8,390.0 874.8,416.5 875.7,390.2 876.7,406.1 877.6,388.7 878.6,396.6 879.5,386.2 880.5,408.9 881.4,389.9 882.4,389.1 883.3,408.0 884.3,386.0 885.2,378.8 886.2,379.1 887.1,396.4 888.1,404.8 889.0,417.1 890.0,395.4 890.9,409.9 891.9,404.1 892.8,391.9 893.8,394.3 894.7,407.4 895.7,387.1 896.6,393.4 897.6,384.1 898.4,380.1 899.5,384.1 900.4,397.6 901.4,387.1 902.3,396.2 903.3,425.2 904.2,408.8 905.2,396.8 906.1,399.6 907.1,392.5 908.0,400.7 909.0,376.7 909.9,416.7 910.9,400.0 911.8,377.3 912.8,390.1 913.7,384.7 914.7,408.8 915.6,395.1 916.6,384.3 917.5,407.8 918.5,373.6 919.4,381.0 920.4,410.1 921.3,377.6 922.3,383.5 923.2,393.5 924.2,384.1 925.1,397.4 926.1,397.2 927.0,378.8 928.0,395.3 928.9,375.8 930.1,371.8 930.8,375.8 931.8,393.9 932.7,383.2 933.7,386.8 934.6,391.4 935.6,380.7 936.5,399.6 937.5,368.3 938.4,387.9 939.4,372.0 940.3,397.8 941.3,362.2 942.2,368.4 943.2,347.8 944.1,359.8 945.1,338.4 946.0,340.9 946.8,331.0 947.9,344.8 948.9,342.7 949.8,355.4 950.8,341.4 951.7,359.9 952.7,344.1 953.6,354.2 954.6,379.5 955.5,359.8 956.5,390.9 957.4,373.5 958.4,387.7 959.3,354.8 960.3,365.3 961.2,345.5 962.2,351.8 963.5,340.0 964.1,344.0 965.0,345.5 966.0,346.2 966.9,363.9 967.9,376.8 968.8,389.3 969.8,376.3 970.7,386.9 971.7,382.3 972.6,384.9 973.6,390.1 974.5,378.2 975.5,398.2 976.4,405.1 977.4,380.6 978.3,401.9 979.3,377.9 980.2,399.0 981.2,405.5 982.1,381.0 983.1,381.1 984.0,405.6 985.0,390.5 985.9,397.6 986.9,374.1 987.8,390.9 988.8,392.0 989.7,368.6 990.7,391.6 991.6,358.0 992.6,364.4 993.5,372.3 994.5,353.0 995.4,365.3 996.4,350.0 996.9,346.0 998.3,350.0 999.2,372.6 1000.2,377.2 1001.1,368.0 1002.1,372.2 1003.0,402.7 1004.0,377.0 1004.9,406.3 1005.9,391.6 1006.8,398.1 1007.8,385.7 1008.7,401.0 1009.7,378.2 1010.6,399.4 1011.6,393.6 1012.5,413.9 1013.5,397.4 1014.4,419.1 1015.4,407.0 1016.3,424.5 1017.3,413.5 1018.2,403.9 1019.2,407.4 1020.1,408.2 1021.1,388.8 1022.0,388.9 1023.0,385.8 1023.6,381.8 1024.9,391.7 1025.8,387.0 1026.8,397.5 1027.7,391.3 1028.7,417.0 1029.6,420.3 1030.6,396.0 1031.5,408.7 1032.5,412.6 1033.4,390.7 1034.4,404.4 1035.3,398.7 1036.3,385.6 1037.2,398.3 1038.6,380.1 1039.1,390.7 1040.1,393.9 1041.0,387.1 1042.0,394.7 1042.9,379.8 1043.9,400.9 1044.8,401.0 1045.8,391.9 1046.7,415.7 1047.7,396.7 1048.6,405.6 1049.6,418.2 1050.5,407.2 1051.5,403.2 1052.4,426.0 1053.4,408.5 1054.3,430.3 1055.3,430.3 1056.2,417.5 1057.2,430.3 1058.1,414.8 1059.1,403.3 1060.0,409.0 1061.0,421.4 1061.9,396.6 1062.9,413.9 1063.8,390.5 1064.8,386.4 1065.7,388.7 1066.7,382.7 1067.6,380.2 1068.6,364.0 1069.5,360.0 1070.5,376.4 1071.4,382.7 1072.4,377.7 1073.3,392.9 1074.3,396.3 1075.2,417.7 1076.2,391.1 1077.1,397.0 1078.1,418.7 1079.0,400.6 1080.0,418.6 1080.9,406.2 1081.9,429.6 1082.8,430.3 1083.8,420.1 1084.7,425.5 1085.7,420.7 1086.6,415.4 1087.6,403.7 1088.5,402.5 1089.5,408.3 1090.4,397.0 1091.4,401.0 1092.3,402.5 1093.3,412.7 1094.2,405.5 1095.2,423.0 1096.1,408.1 1097.1,428.7 1098.0,412.3 1099.0,416.5 1099.9,430.3 1100.9,416.0 1101.8,430.3 1102.8,424.8 1103.7,430.3 1104.7,423.1 1105.6,430.3 1106.6,426.2 1107.5,416.9 1108.5,417.1 1109.4,418.9 1110.4,409.3 1111.3,420.8 1112.3,411.7 1113.2,406.4 1114.2,414.1 1115.1,399.2 1116.1,413.6 1117.0,408.4 1118.0,414.4 1118.9,408.4 1119.9,398.3 1120.8,397.7 1121.8,390.3 1122.7,391.8 1123.7,387.5 1124.3,376.0 1125.6,379.3 1126.5,384.2 1127.5,401.9 1128.4,390.2 1129.4,408.5 1130.3,403.3 1131.3,404.0 1132.2,397.7 1133.2,413.2 1134.1,401.5 1135.1,408.4 1136.0,398.5 1137.0,397.0 1138.1,393.0 1138.9,401.5 1139.8,400.2 1140.8,418.1 1141.7,407.9 1142.7,419.2 1143.6,419.7 1144.6,430.3 1145.5,426.2 1146.5,424.0 1147.4,428.8 1148.4,430.3 1149.3,430.3 1150.3,430.3 1151.2,427.7 1152.2,430.3 1153.1,429.2 1154.1,429.7 1155.0,430.3 1156.0,430.3 1156.9,430.3 1157.9,430.3 1158.8,428.6 1159.8,430.3 1160.7,430.3 1161.7,430.3 1162.6,430.3 1163.6,430.3 1164.5,430.3 1165.5,428.8 1166.4,430.3 1167.4,425.2 1168.3,424.2 1169.3,418.3 1170.2,425.9 1171.2,416.0 1172.1,429.7 1173.1,410.9 1174.0,430.3 1175.0,426.6 1175.9,407.8 1176.9,420.6 1177.8,422.5 1178.8,421.8 1179.7,405.0 1180.7,417.6 1181.6,407.8 1182.6,409.4 1183.5,401.0 1184.5,404.9 1185.4,398.0 1185.9,394.0 1187.3,402.7 1188.3,409.1 1189.2,401.9 1190.2,419.4 1191.1,411.5 1192.1,422.2 1193.0,415.7 1194.0,430.3 1194.9,417.4 1195.9,419.7 1196.8,430.3 1197.8,428.4 1198.7,430.3 1199.7,430.3 1200.6,430.3 1201.6,430.3 1202.5,427.7 1203.5,430.3 1204.4,430.3 1205.4,426.0 1206.3,430.3 1207.3,430.3 1208.2,430.3 1209.2,427.0 1210.1,430.3 1211.1,430.3 1212.0,430.3 1213.0,430.3 1213.9,430.3 1214.9,430.3 1215.8,425.8 1216.8,430.3 1217.7,430.3 1218.7,426.2 1219.6,430.3 1220.6,427.5 1221.5,430.3 1222.5,430.3 1223.4,429.4 1224.4,429.7 1225.3,425.2 1226.3,430.3 1227.2,430.3 1228.2,430.3 1229.1,426.8 1230.1,430.3 1231.0,426.6 1232.0,430.3 1232.9,428.2 1233.9,430.3 1234.8,430.3 1235.8,424.7 1236.7,430.3 1237.7,427.0 1238.6,430.3 1239.6,427.7 1240.5,430.3 1241.5,429.2 1242.4,427.6 1243.4,430.3 1244.3,430.3 1245.3,430.3 1246.2,430.3 1247.2,430.3 1248.1,430.3 1249.1,430.3 1250.0,430.2 1251.0,427.7 1251.9,430.3 1252.9,429.6 1253.8,430.3 1254.8,430.3 1255.7,430.3 1256.7,427.1 1257.6,430.3 1258.6,430.3 1259.5,427.2 1260.5,429.9 1261.4,430.3 1262.4,430.3 1263.3,430.3 1264.3,430.3 1265.2,430.3 1266.2,430.3 1267.1,430.3 1268.1,430.3 1269.0,430.3 1270.0,430.3 1270.9,430.3 1271.9,430.3 1272.8,429.9 1273.8,430.3 1274.7,430.3 1275.7,430.3 1276.6,430.3 1277.6,430.3 1278.5,430.3 1279.5,430.3 1280.4,430.3 1281.4,430.3 1282.3,430.3 1283.3,426.9 1284.2,430.3 1285.2,430.3 1286.1,430.3 1287.1,430.3" fill="none" stroke="#1414f0" stroke-width="0.9" stroke-linejoin="round"/>
<polyline points="689.5,510.0 690.6,513.0 691.7,507.8 692.8,507.8 693.9,513.2 695.0,509.3 696.1,510.9 697.2,515.8 698.3,510.6 699.4,511.2 700.5,514.3 701.6,511.5 702.7,514.2 703.8,512.7 704.9,513.7 706.0,509.2 707.1,510.7 708.2,513.8 709.3,509.6 710.4,513.4 711.5,509.4 712.6,508.2 713.7,511.6 714.8,510.9 715.9,510.4 717.0,510.5 718.1,509.7 719.2,510.4 720.3,510.1 721.4,512.4 722.5,513.1 723.6,505.6 724.7,512.2 725.8,510.0 726.9,515.6 728.0,507.7 729.1,515.1 730.2,512.4 731.3,512.7 732.4,511.3 733.5,509.6 734.6,510.9 735.7,513.6 736.8,514.5 737.9,513.7 739.0,511.1 740.1,514.6 741.2,509.2 742.3,511.9 743.4,509.0 744.5,507.2 745.6,512.2 746.7,509.0 747.8,515.1 748.9,509.5 750.0,513.0 751.1,510.0 752.2,511.1 753.3,513.5 754.4,506.0 755.5,515.7 756.6,510.5 757.7,513.5 758.8,512.0 759.9,512.6 761.0,514.8 762.1,512.0 763.2,510.7 764.3,512.3 765.4,511.1 766.5,509.4 767.6,512.5 768.7,511.6 769.8,507.4 770.9,511.1 772.0,515.6 773.1,507.9 774.2,513.7 775.3,513.1 776.4,506.6 777.5,510.3 778.6,510.8 779.7,515.1 780.8,510.1 781.9,510.3 783.0,513.4 784.1,508.7 785.2,516.8 786.3,511.8 787.4,507.3 788.5,514.6 789.6,511.7 790.7,516.1 791.8,511.0 792.9,513.0 794.0,513.0 795.1,511.6 796.2,511.4 797.3,507.4 798.4,513.5 799.5,513.4 800.6,506.8 801.7,510.1 802.8,510.4 803.9,509.0 805.0,510.1 806.1,512.3 807.2,507.5 808.3,512.0 809.4,510.4 810.5,508.9 811.6,512.8 812.7,509.8 813.8,514.5 814.9,508.5 816.0,508.4 817.1,513.8 818.2,512.2 819.3,512.6 820.4,511.3 821.5,511.6 822.6,515.0 823.7,507.1 824.8,512.7 825.9,511.2 827.0,511.0 828.1,509.7 829.2,514.2 830.3,508.6 831.4,515.3 832.5,511.9 833.6,513.0 834.7,514.1 835.8,509.7 836.9,513.9 838.0,509.0 839.1,514.9 840.2,509.2 841.3,514.4 842.4,506.5 843.5,512.7 844.6,508.2 845.7,511.4 846.8,509.1 847.9,513.0 849.0,514.0 850.1,508.4 851.2,512.9 852.3,507.8 853.4,510.0 854.5,510.3 855.6,515.7 856.7,515.7 857.8,510.5 858.9,513.8 860.0,507.9 861.1,510.0 862.2,508.9 863.3,513.4 864.4,509.3 865.5,512.9 866.6,508.5 867.7,511.9 868.8,516.3 869.9,515.3 871.0,513.0 872.1,509.6 873.2,510.9 874.3,510.5 875.4,513.8 876.5,515.3 877.6,513.9 878.7,512.0 879.8,508.6 880.9,513.3 882.0,516.7 883.1,507.6 884.2,514.5 885.3,515.4 886.4,508.4 887.5,516.3 888.6,516.4 889.7,510.8 890.8,513.7 891.9,511.2 893.0,515.9 894.1,513.0 895.2,510.9 896.3,510.6 897.4,512.3 898.5,512.6 899.6,510.3 900.7,512.8 901.8,516.1 902.9,510.1 904.0,511.9 905.1,510.3 906.2,507.3 907.3,511.0 908.4,512.0 909.5,511.5 910.6,510.1 911.7,515.1 912.8,514.6 913.9,508.2 915.0,511.8 916.1,509.7 917.2,513.5 918.3,510.2 919.4,508.1 920.5,513.9 921.6,508.6 922.7,512.4 923.8,514.4 924.9,512.8 926.0,508.0 927.1,510.9 928.2,512.9 929.3,507.5 930.4,513.9 931.5,516.9 932.6,509.7 933.7,515.0 934.8,515.7 935.9,509.2 937.0,507.5 938.1,509.5 939.2,506.5 940.3,510.6 941.4,505.4 942.5,508.9 943.6,509.9 944.7,508.1 945.8,509.6 946.9,512.1 948.0,508.8 949.1,512.7 950.2,508.1 951.3,509.5 952.4,516.0 953.5,514.3 954.6,506.7 955.7,514.0 956.8,513.5 957.9,509.2 959.0,509.5 960.1,513.6 961.2,516.1 962.3,511.7 963.4,514.9 964.5,516.1 965.6,513.5 966.7,515.0 967.8,508.7 968.9,511.0 970.0,509.6 971.1,506.2 972.2,512.5 973.3,507.7 974.4,516.2 975.5,514.0 976.6,513.6 977.7,509.0 978.8,512.6 979.9,507.4 981.0,513.5 982.1,511.2 983.2,510.1 984.3,511.1 985.4,506.7 986.5,513.6 987.6,510.9 988.7,508.6 989.8,508.7 990.9,515.3 992.0,510.9 993.1,507.1 994.2,513.4 995.3,514.6 996.4,512.8 997.5,509.0 998.6,509.2 999.7,508.9 1000.8,514.0 1001.9,512.0 1003.0,511.1 1004.1,512.4 1005.2,517.3 1006.3,509.1 1007.4,507.9 1008.5,513.3 1009.6,513.2 1010.7,506.6 1011.8,514.5 1012.9,508.7 1014.0,507.1 1015.1,509.2 1016.2,514.4 1017.3,515.7 1018.4,510.4 1019.5,507.5 1020.6,511.8 1021.7,509.6 1022.8,514.8 1023.9,509.3 1025.0,513.0 1026.1,509.4 1027.2,513.2 1028.3,507.8 1029.4,511.3 1030.5,511.3 1031.6,516.2 1032.7,516.3 1033.8,511.1 1034.9,515.5 1036.0,510.7 1037.1,513.7 1038.2,513.2 1039.3,508.8 1040.4,510.4 1041.5,511.1 1042.6,515.0 1043.7,509.8 1044.8,511.6 1045.9,516.0 1047.0,516.6 1048.1,508.1 1049.2,514.2 1050.3,510.3 1051.4,512.3 1052.5,512.4 1053.6,507.9 1054.7,511.0 1055.8,512.5 1056.9,509.4 1058.0,512.9 1059.1,508.6 1060.2,512.2 1061.3,509.9 1062.4,512.0 1063.5,515.1 1064.6,508.8 1065.7,512.0 1066.8,506.6 1067.9,513.4 1069.0,514.4 1070.1,511.3 1071.2,509.3 1072.3,506.7 1073.4,513.7 1074.5,508.7 1075.6,512.2 1076.7,510.5 1077.8,515.2 1078.9,508.9 1080.0,512.5 1081.1,510.7 1082.2,512.4 1083.3,512.2 1084.4,513.2 1085.5,510.0 1086.6,515.8 1087.7,514.0 1088.8,508.6 1089.9,510.7 1091.0,514.5 1092.1,508.4 1093.2,507.3 1094.3,512.5 1095.4,507.3 1096.5,513.9 1097.6,509.9 1098.7,509.2 1099.8,514.7 1100.9,514.7 1102.0,511.2 1103.1,514.5 1104.2,509.8 1105.3,512.3 1106.4,507.4 1107.5,512.2 1108.6,514.0 1109.7,508.3 1110.8,512.7 1111.9,508.7 1113.0,512.8 1114.1,510.1 1115.2,506.5 1116.3,507.8 1117.4,508.9 1118.5,514.1 1119.6,513.6 1120.7,509.6 1121.8,511.2 1122.9,512.1 1124.0,510.0 1125.1,510.2 1126.2,513.1 1127.3,510.9 1128.4,509.7 1129.5,512.1 1130.6,512.0 1131.7,509.7 1132.8,512.9 1133.9,511.8 1135.0,512.4 1136.1,511.2 1137.2,514.0 1138.3,510.2 1139.4,515.0 1140.5,512.4 1141.6,514.4 1142.7,515.4 1143.8,509.9 1144.9,513.2 1146.0,510.0 1147.1,514.0 1148.2,510.1 1149.3,513.6 1150.4,512.2 1151.5,509.4 1152.6,512.8 1153.7,507.9 1154.8,514.7 1155.9,513.0 1157.0,511.3 1158.1,506.4 1159.2,513.2 1160.3,508.5 1161.4,510.1 1162.5,511.1 1163.6,509.8 1164.7,514.6 1165.8,509.7 1166.9,508.4 1168.0,515.7 1169.1,507.8 1170.2,513.7 1171.3,515.5 1172.4,515.7 1173.5,514.4 1174.6,508.6 1175.7,512.5 1176.8,507.7 1177.9,514.0 1179.0,517.0 1180.1,507.5 1181.2,513.8 1182.3,509.3 1183.4,511.8 1184.5,512.6 1185.6,510.1 1186.7,514.0 1187.8,512.7 1188.9,516.0 1190.0,507.8 1191.1,509.1 1192.2,510.1 1193.3,514.1 1194.4,511.4 1195.5,514.4 1196.6,517.5 1197.7,508.4 1198.8,514.3 1199.9,515.5 1201.0,512.6 1202.1,510.7 1203.2,510.7 1204.3,514.4 1205.4,514.1 1206.5,512.1 1207.6,510.5 1208.7,514.0 1209.8,509.1 1210.9,513.6 1212.0,508.7 1213.1,512.9 1214.2,508.7 1215.3,515.5 1216.4,506.7 1217.5,506.7 1218.6,513.1 1219.7,507.9 1220.8,514.0 1221.9,511.2 1223.0,515.2 1224.1,509.5 1225.2,509.0 1226.3,508.8 1227.4,508.7 1228.5,511.5 1229.6,510.2 1230.7,515.7 1231.8,509.7 1232.9,511.9 1234.0,509.2 1235.1,511.3 1236.2,513.3 1237.3,510.9 1238.4,514.2 1239.5,506.0 1240.6,512.2 1241.7,511.8 1242.8,512.5 1243.9,514.3 1245.0,515.6 1246.1,514.5 1247.2,508.3 1248.3,509.8 1249.4,512.9 1250.5,508.6 1251.6,511.3 1252.7,510.8 1253.8,514.9 1254.9,509.8 1256.0,508.1 1257.1,510.6 1258.2,512.5 1259.3,509.5 1260.4,513.5 1261.5,516.5 1262.6,510.7 1263.7,516.7 1264.8,511.1 1265.9,513.1 1267.0,509.2 1268.1,512.6 1269.2,510.0 1270.3,511.8 1271.4,507.0 1272.5,514.9 1273.6,509.9 1274.7,511.8 1275.8,512.8 1276.9,507.6 1278.0,512.7 1279.1,515.0 1280.2,509.2 1281.3,512.2 1282.4,513.8 1283.5,509.3 1284.6,505.5 1285.7,510.7 1286.8,511.6 1287.9,513.8" fill="none" stroke="#ff0000" stroke-width="1.0" stroke-linejoin="round"/>
<polyline points="689.5,585.4 690.4,594.9 691.3,591.4 692.2,593.8 693.1,593.4 694.0,596.7 694.9,586.0 695.8,591.6 696.7,587.5 697.6,590.1 698.5,596.5 699.4,594.7 700.3,592.6 701.2,588.5 702.1,591.0 703.0,596.1 703.9,586.4 704.8,596.8 705.7,591.3 706.6,594.5 707.5,587.2 708.4,592.3 709.3,586.6 710.2,593.7 711.1,588.2 712.0,592.4 712.9,589.8 713.8,583.4 714.7,595.0 715.6,586.7 716.5,591.2 717.4,588.1 718.3,594.6 719.2,588.2 720.1,596.3 721.0,591.0 721.9,595.2 722.8,590.9 723.7,595.8 724.6,597.5 725.5,593.5 726.4,589.6 727.3,596.5 728.2,597.9 729.1,595.9 730.0,589.3 730.9,593.8 731.8,587.5 732.7,597.3 733.6,589.3 734.5,588.8 735.4,590.9 736.3,592.7 737.2,586.9 738.1,596.3 739.0,594.2 739.9,587.3 740.8,585.6 741.7,586.3 742.6,596.3 743.5,594.3 744.4,592.4 745.3,595.7 746.2,590.4 747.1,591.0 748.0,596.6 748.9,593.3 749.8,589.1 750.7,588.1 751.6,593.5 752.5,593.8 753.4,598.2 754.3,592.6 755.2,587.5 756.1,594.0 757.0,589.5 757.9,588.8 758.8,590.4 759.7,585.4 760.6,594.4 761.5,591.4 762.4,596.6 763.3,589.9 764.2,590.1 765.1,591.7 766.0,589.8 766.9,589.1 767.8,590.1 768.7,590.4 769.6,590.6 770.5,595.2 771.4,587.8 772.3,593.3 773.2,594.2 774.1,585.9 775.0,589.4 775.9,594.4 776.8,588.0 777.7,594.6 778.6,588.6 779.5,589.2 780.4,585.7 781.3,595.2 782.2,590.6 783.1,592.7 784.0,597.0 784.9,596.9 785.8,595.0 786.7,594.0 787.6,598.6 788.5,597.5 789.4,587.6 790.3,593.1 791.2,586.6 792.1,588.7 793.0,592.5 793.9,596.2 794.8,585.9 795.7,592.6 796.6,594.5 797.5,586.6 798.4,590.5 799.3,590.6 800.2,592.5 801.1,588.9 802.0,597.5 802.9,590.9 803.8,592.3 804.7,584.8 805.6,591.8 806.5,589.6 807.4,594.8 808.3,587.7 809.2,592.2 810.1,587.9 811.0,586.6 811.9,594.3 812.8,590.9 813.7,588.2 814.6,594.5 815.5,596.1 816.4,594.1 817.3,597.0 818.2,591.9 819.1,594.4 820.0,597.3 820.9,596.4 821.8,597.8 822.7,590.2 823.6,595.9 824.5,595.6 825.4,587.0 826.3,593.8 827.2,596.2 828.1,586.8 829.0,594.1 829.9,587.0 830.8,594.7 831.7,595.5 832.6,592.5 833.5,599.0 834.4,589.3 835.3,598.0 836.2,590.0 837.1,590.2 838.0,595.0 838.9,588.8 839.8,591.2 840.7,595.5 841.6,590.8 842.5,588.2 843.4,597.9 844.3,589.2 845.2,593.3 846.1,589.7 847.0,591.3 847.9,592.9 848.8,589.3 849.7,585.9 850.6,596.0 851.5,596.7 852.4,585.7 853.3,595.2 854.2,586.4 855.1,596.2 856.0,588.3 856.9,593.1 857.8,589.5 858.7,592.3 859.6,597.1 860.5,594.2 861.4,589.2 862.3,593.6 863.2,588.4 864.1,595.1 865.0,587.3 865.9,594.3 866.8,590.3 867.7,584.1 868.6,586.3 869.5,593.9 870.4,588.4 871.3,583.8 872.2,588.2 873.1,584.8 874.0,593.2 874.9,585.4 875.8,591.9 876.7,585.6 877.6,585.5 878.5,587.1 879.4,597.1 880.3,584.3 881.2,591.9 882.1,593.8 883.0,593.2 883.9,589.6 884.8,591.7 885.7,589.8 886.6,585.4 887.5,596.0 888.4,587.9 889.3,597.4 890.2,589.4 891.1,592.5 892.0,589.4 892.9,588.1 893.8,593.1 894.7,585.7 895.6,594.8 896.5,593.6 897.4,593.1 898.3,588.6 899.2,588.9 900.1,598.9 901.0,592.8 901.9,591.2 902.8,592.6 903.7,591.6 904.6,594.4 905.5,587.2 906.4,587.2 907.3,594.3 908.2,588.8 909.1,593.6 910.0,590.2 910.9,594.5 911.8,595.1 912.7,588.1 913.6,584.1 914.5,591.9 915.4,588.7 916.3,590.4 917.2,595.4 918.1,586.6 919.0,593.5 919.9,590.0 920.8,593.6 921.7,586.4 922.6,589.3 923.5,596.1 924.4,587.6 925.3,593.9 926.2,589.0 927.1,592.6 928.0,588.6 928.9,593.8 929.8,589.7 930.7,591.9 931.6,588.1 932.5,590.6 933.4,598.2 934.3,590.3 935.2,587.4 936.1,599.6 937.0,589.1 937.9,597.5 938.8,588.8 939.7,585.1 940.6,593.0 941.5,588.0 942.4,596.2 943.3,584.7 944.2,590.7 945.1,595.8 946.0,583.3 946.9,593.5 947.8,589.4 948.7,596.1 949.6,587.3 950.5,595.0 951.4,587.0 952.3,584.7 953.2,594.9 954.1,589.8 955.0,588.8 955.9,585.8 956.8,596.5 957.7,588.9 958.6,593.8 959.5,594.8 960.4,597.6 961.3,588.5 962.2,599.5 963.1,593.3 964.0,591.1 964.9,592.0 965.8,598.1 966.7,586.5 967.6,594.9 968.5,587.1 969.4,593.9 970.3,591.4 971.2,596.3 972.1,595.4 973.0,585.2 973.9,586.9 974.8,590.4 975.7,588.0 976.6,594.6 977.5,585.5 978.4,585.6 979.3,591.8 980.2,589.7 981.1,589.3 982.0,593.9 982.9,598.2 983.8,589.7 984.7,589.0 985.6,591.8 986.5,585.7 987.4,595.5 988.3,585.4 989.2,595.2 990.1,594.1 991.0,592.7 991.9,594.1 992.8,584.0 993.7,595.6 994.6,593.8 995.5,590.9 996.4,595.3 997.3,597.1 998.2,585.6 999.1,594.4 1000.0,590.2 1000.9,595.9 1001.8,590.6 1002.7,598.2 1003.6,599.2 1004.5,597.6 1005.4,595.4 1006.3,589.4 1007.2,590.0 1008.1,586.9 1009.0,591.2 1009.9,594.6 1010.8,592.3 1011.7,595.3 1012.6,586.5 1013.5,595.7 1014.4,595.2 1015.3,589.2 1016.2,593.0 1017.1,588.7 1018.0,595.1 1018.9,595.0 1019.8,589.2 1020.7,592.2 1021.6,596.5 1022.5,585.7 1023.4,592.5 1024.3,585.7 1025.2,595.4 1026.1,590.6 1027.0,593.7 1027.9,586.2 1028.8,590.7 1029.7,588.8 1030.6,592.8 1031.5,588.5 1032.4,595.6 1033.3,588.6 1034.2,592.4 1035.1,588.7 1036.0,598.0 1036.9,593.6 1037.8,596.0 1038.7,589.3 1039.6,587.3 1040.5,589.7 1041.4,593.7 1042.3,587.0 1043.2,590.2 1044.1,590.9 1045.0,595.2 1045.9,588.8 1046.8,586.0 1047.7,587.7 1048.6,594.9 1049.5,589.8 1050.4,591.9 1051.3,593.4 1052.2,591.6 1053.1,588.2 1054.0,585.4 1054.9,591.1 1055.8,583.3 1056.7,591.6 1057.6,592.4 1058.5,590.0 1059.4,586.8 1060.3,600.1 1061.2,589.1 1062.1,593.4 1063.0,595.8 1063.9,592.9 1064.8,594.7 1065.7,599.1 1066.6,587.4 1067.5,594.3 1068.4,597.3 1069.3,588.3 1070.2,586.5 1071.1,590.0 1072.0,596.2 1072.9,585.3 1073.8,595.3 1074.7,590.5 1075.6,594.8 1076.5,598.7 1077.4,591.3 1078.3,595.2 1079.2,594.1 1080.1,593.4 1081.0,595.7 1081.9,583.4 1082.8,590.4 1083.7,583.6 1084.6,582.3 1085.5,585.9 1086.4,588.0 1087.3,594.9 1088.2,592.7 1089.1,585.8 1090.0,591.5 1090.9,588.7 1091.8,595.5 1092.7,585.5 1093.6,590.4 1094.5,593.5 1095.4,591.1 1096.3,583.4 1097.2,595.3 1098.1,592.2 1099.0,581.9 1099.9,587.2 1100.8,590.6 1101.7,589.9 1102.6,589.8 1103.5,591.8 1104.4,587.0 1105.3,584.5 1106.2,591.9 1107.1,591.0 1108.0,584.2 1108.9,585.2 1109.8,589.3 1110.7,595.5 1111.6,585.0 1112.5,594.1 1113.4,591.1 1114.3,591.8 1115.2,591.0 1116.1,583.5 1117.0,593.1 1117.9,590.4 1118.8,592.8 1119.7,589.7 1120.6,588.2 1121.5,590.5 1122.4,582.4 1123.3,589.7 1124.2,593.3 1125.1,583.1 1126.0,590.6 1126.9,587.4 1127.8,586.8 1128.7,585.7 1129.6,584.9 1130.5,589.3 1131.4,587.4 1132.3,594.5 1133.2,586.9 1134.1,590.5 1135.0,590.1 1135.9,593.7 1136.8,589.1 1137.7,592.7 1138.6,590.6 1139.5,584.0 1140.4,593.3 1141.3,582.4 1142.2,593.8 1143.1,587.2 1144.0,585.1 1144.9,590.7 1145.8,589.0 1146.7,590.9 1147.6,582.5 1148.5,591.0 1149.4,589.3 1150.3,589.5 1151.2,586.3 1152.1,594.3 1153.0,591.3 1153.9,596.3 1154.8,585.8 1155.7,592.2 1156.6,597.4 1157.5,586.1 1158.4,584.4 1159.3,593.8 1160.2,589.0 1161.1,592.4 1162.0,588.9 1162.9,587.4 1163.8,589.4 1164.7,594.6 1165.6,585.7 1166.5,592.3 1167.4,587.8 1168.3,590.3 1169.2,585.9 1170.1,595.8 1171.0,591.3 1171.9,594.3 1172.8,586.9 1173.7,587.2 1174.6,588.0 1175.5,595.1 1176.4,587.7 1177.3,593.2 1178.2,587.9 1179.1,593.5 1180.0,593.8 1180.9,593.1 1181.8,591.6 1182.7,597.0 1183.6,599.4 1184.5,590.2 1185.4,594.4 1186.3,585.7 1187.2,593.0 1188.1,593.4 1189.0,588.5 1189.9,590.3 1190.8,596.1 1191.7,589.4 1192.6,592.7 1193.5,587.8 1194.4,593.1 1195.3,586.5 1196.2,596.3 1197.1,592.9 1198.0,589.3 1198.9,592.4 1199.8,585.6 1200.7,592.7 1201.6,589.5 1202.5,590.4 1203.4,594.9 1204.3,589.1 1205.2,590.1 1206.1,587.2 1207.0,593.1 1207.9,597.0 1208.8,587.4 1209.7,594.5 1210.6,590.0 1211.5,593.6 1212.4,596.2 1213.3,590.1 1214.2,596.4 1215.1,589.9 1216.0,596.0 1216.9,593.0 1217.8,589.0 1218.7,595.1 1219.6,585.3 1220.5,596.5 1221.4,588.5 1222.3,593.0 1223.2,598.3 1224.1,595.2 1225.0,590.2 1225.9,593.4 1226.8,596.1 1227.7,585.9 1228.6,592.6 1229.5,593.3 1230.4,586.4 1231.3,594.0 1232.2,589.8 1233.1,599.2 1234.0,587.9 1234.9,597.0 1235.8,592.9 1236.7,596.0 1237.6,591.3 1238.5,597.0 1239.4,591.9 1240.3,594.6 1241.2,591.1 1242.1,596.0 1243.0,590.5 1243.9,598.2 1244.8,600.2 1245.7,600.3 1246.6,592.0 1247.5,590.6 1248.4,590.7 1249.3,589.1 1250.2,591.9 1251.1,598.9 1252.0,590.9 1252.9,598.7 1253.8,593.0 1254.7,596.3 1255.6,586.2 1256.5,597.3 1257.4,592.9 1258.3,590.8 1259.2,588.6 1260.1,596.8 1261.0,587.6 1261.9,594.9 1262.8,591.5 1263.7,589.1 1264.6,593.8 1265.5,592.0 1266.4,590.5 1267.3,597.6 1268.2,587.1 1269.1,589.0 1270.0,598.4 1270.9,589.7 1271.8,587.6 1272.7,598.2 1273.6,595.1 1274.5,596.9 1275.4,587.9 1276.3,599.1 1277.2,599.2 1278.1,590.3 1279.0,595.8 1279.9,594.4 1280.8,596.5 1281.7,595.7 1282.6,591.2 1283.5,597.1 1284.4,591.5 1285.3,596.1 1286.2,588.3 1287.1,599.0" fill="none" stroke="#000000" stroke-width="1.05" stroke-linejoin="round"/>
<rect x="689.0" y="95.2" width="599.4" height="545.0" fill="none" stroke="#000" stroke-width="2.3" stroke-linejoin="round"/>
<text transform="translate(660.48,678.6) scale(1,1.04)" font-size="34.2" fill="#111" stroke="#111" stroke-width="0.3">600</text>
<text transform="translate(760.38,678.6) scale(1,1.04)" font-size="34.2" fill="#111" stroke="#111" stroke-width="0.3">800</text>
<text transform="translate(850.77,678.6) scale(1,1.04)" font-size="34.2" fill="#111" stroke="#111" stroke-width="0.3">1000</text>
<text transform="translate(950.67,678.6) scale(1,1.04)" font-size="34.2" fill="#111" stroke="#111" stroke-width="0.3">1200</text>
<text transform="translate(1050.57,678.6) scale(1,1.04)" font-size="34.2" fill="#111" stroke="#111" stroke-width="0.3">1400</text>
<text transform="translate(1150.47,678.6) scale(1,1.04)" font-size="34.2" fill="#111" stroke="#111" stroke-width="0.3">1600</text>
<text transform="translate(1250.37,678.6) scale(1,1.04)" font-size="34.2" fill="#111" stroke="#111" stroke-width="0.3">1800</text>
<text transform="translate(1247.8,170.1) scale(1,1.05)" font-size="34" fill="#111" stroke="#111" stroke-width="0.3">1</text>
<text transform="translate(1247.8,302.5) scale(1,1.05)" font-size="34" fill="#111" stroke="#111" stroke-width="0.3">2</text>
<text transform="translate(1247.8,414.7) scale(1,1.05)" font-size="34" fill="#111" stroke="#111" stroke-width="0.3">3</text>
<text transform="translate(1247.8,496.6) scale(1,1.05)" font-size="34" fill="#111" stroke="#111" stroke-width="0.3">4</text>
<text transform="translate(1247.8,578.8) scale(1,1.05)" font-size="34" fill="#111" stroke="#111" stroke-width="0.3">5</text>
<text transform="translate(1300.90,201.10) scale(1,1.061)" font-size="26.90" fill="#111" stroke="#111" stroke-width="0.3">Au NH/PDMS (1 h)</text>
<text transform="translate(1299.80,328.50) scale(1,1.062)" font-size="26.75" fill="#111" stroke="#111" stroke-width="0.3">Au NH/PDMS (10 min)</text>
<text transform="translate(1303.40,431.40) scale(1,1.075)" font-size="26.69" fill="#111" stroke="#111" stroke-width="0.3">Au NH/PDMS (1 min)</text>
<text transform="translate(1302.10,517.60) scale(1,1.081)" font-size="26.27" fill="#111" stroke="#111" stroke-width="0.3">Au Film/PDMS</text>
<text transform="translate(1485.59,517.60) scale(1,1.060)" font-size="26.80" fill="#111" stroke="#111" stroke-width="0.3">(1 h)</text>
<text transform="translate(1301.10,597.10) scale(1,1.057)" font-size="26.87" fill="#111" stroke="#111" stroke-width="0.3">Au NH/PDMS (1 h)</text>
<text transform="translate(801.89,746.4) scale(1,1.05)" font-size="43.9" fill="#111" stroke="#111" stroke-width="0.3">Raman shift (cm<tspan font-size="30" dx="1.5" dy="-11.6">-1</tspan><tspan dy="11.6" dx="2.2">)</tspan></text>
<text transform="translate(642.0,539.89) rotate(-90) scale(1,1.036)" font-size="44.3" fill="#111" stroke="#111" stroke-width="0.3">Intensity (a.u.)</text>
</svg></body></html>
